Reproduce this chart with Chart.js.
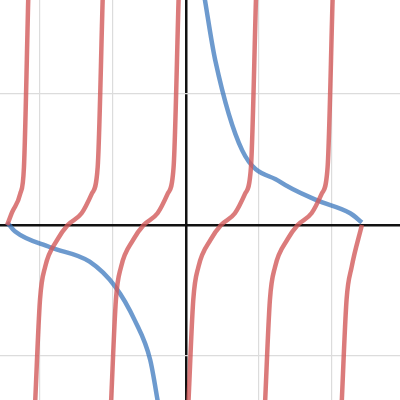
<!DOCTYPE html>
<html><head><meta charset="UTF-8">
<style>html,body{margin:0;padding:0;background:#fff}#wrap{width:400px;height:400px}</style>
<script src="https://cdn.jsdelivr.net/npm/chart.js@4/dist/chart.umd.min.js"></script>
</head><body><div id="wrap"><canvas id="c"></canvas></div>
<script>
// red branches, [x, y] (grid units)
const red1 = [[-2.45,0],[-2.38,0.1],[-2.27,0.24],[-2.22,0.44],[-2.16,1.75]];
const red2 = [[-2.07,-1.4],[-2.00,-0.57],[-1.93,-0.32],[-1.76,-0.11],[-1.62,0],[-1.43,0.09],[-1.29,0.24],[-1.21,0.44],[-1.14,1.75]];
const red3 = [[-1.03,-1.4],[-0.96,-0.57],[-0.89,-0.32],[-0.72,-0.11],[-0.58,0],[-0.39,0.09],[-0.25,0.24],[-0.17,0.44],[-0.10,1.75]];
const red4 = [[0.03,-1.4],[0.10,-0.57],[0.17,-0.32],[0.34,-0.11],[0.48,0],[0.67,0.09],[0.81,0.24],[0.89,0.44],[0.96,1.75]];
const red5 = [[1.08,-1.4],[1.15,-0.57],[1.22,-0.32],[1.39,-0.11],[1.53,0],[1.72,0.09],[1.86,0.24],[1.94,0.44],[2.01,1.75]];
const red6 = [[2.13,-1.4],[2.20,-0.57],[2.27,-0.32],[2.41,0]];
const blueLeft = [[-2.45,0.02],[-2.34,-0.05],[-1.86,-0.17],[-1.32,-0.28],[-0.97,-0.47],[-0.70,-0.73],[-0.49,-1.03],[-0.37,-1.4]];
const blueRight = [[0.25,1.75],[0.40,1.26],[0.77,0.57],[1.29,0.33],[1.79,0.19],[2.25,0.09],[2.41,0.02]];
const gridTicks = [-2, -1, 0, 1, 2];

const RED = 'rgba(210,90,90,0.8)';
const BLUE = 'rgba(60,120,190,0.75)';
const toPts = a => a.map(p => ({ x: p[0], y: p[1] }));
const line = (pts, color) => ({
  data: toPts(pts), showLine: true, borderColor: color, borderWidth: 4.5,
  pointRadius: 0, cubicInterpolationMode: 'monotone', fill: false
});

const grid = {
  drawTicks: false,
  color: c => c.tick.value === 0 ? '#111' : '#dcdcdc',
  lineWidth: c => c.tick.value === 0 ? 2.5 : 1.2
};

new Chart(document.getElementById('c'), {
  type: 'scatter',
  data: {
    datasets: [
      line(red1, RED), line(red2, RED), line(red3, RED),
      line(red4, RED), line(red5, RED), line(red6, RED),
      line(blueLeft, BLUE), line(blueRight, BLUE)
    ]
  },
  options: {
    responsive: true, maintainAspectRatio: false, animation: false,
    layout: { padding: 0 },
    plugins: { legend: { display: false }, tooltip: { enabled: false } },
    scales: {
      x: {
        type: 'linear', min: -2.548, max: 2.932,
        afterBuildTicks: ax => { ax.ticks = gridTicks.map(v => ({ value: v })); },
        ticks: { display: false }, border: { display: false }, grid
      },
      y: {
        type: 'linear', min: -1.336, max: 1.718,
        afterBuildTicks: ax => { ax.ticks = [-1, 0, 1].map(v => ({ value: v })); },
        ticks: { display: false }, border: { display: false }, grid
      }
    }
  }
});
</script></body></html>
